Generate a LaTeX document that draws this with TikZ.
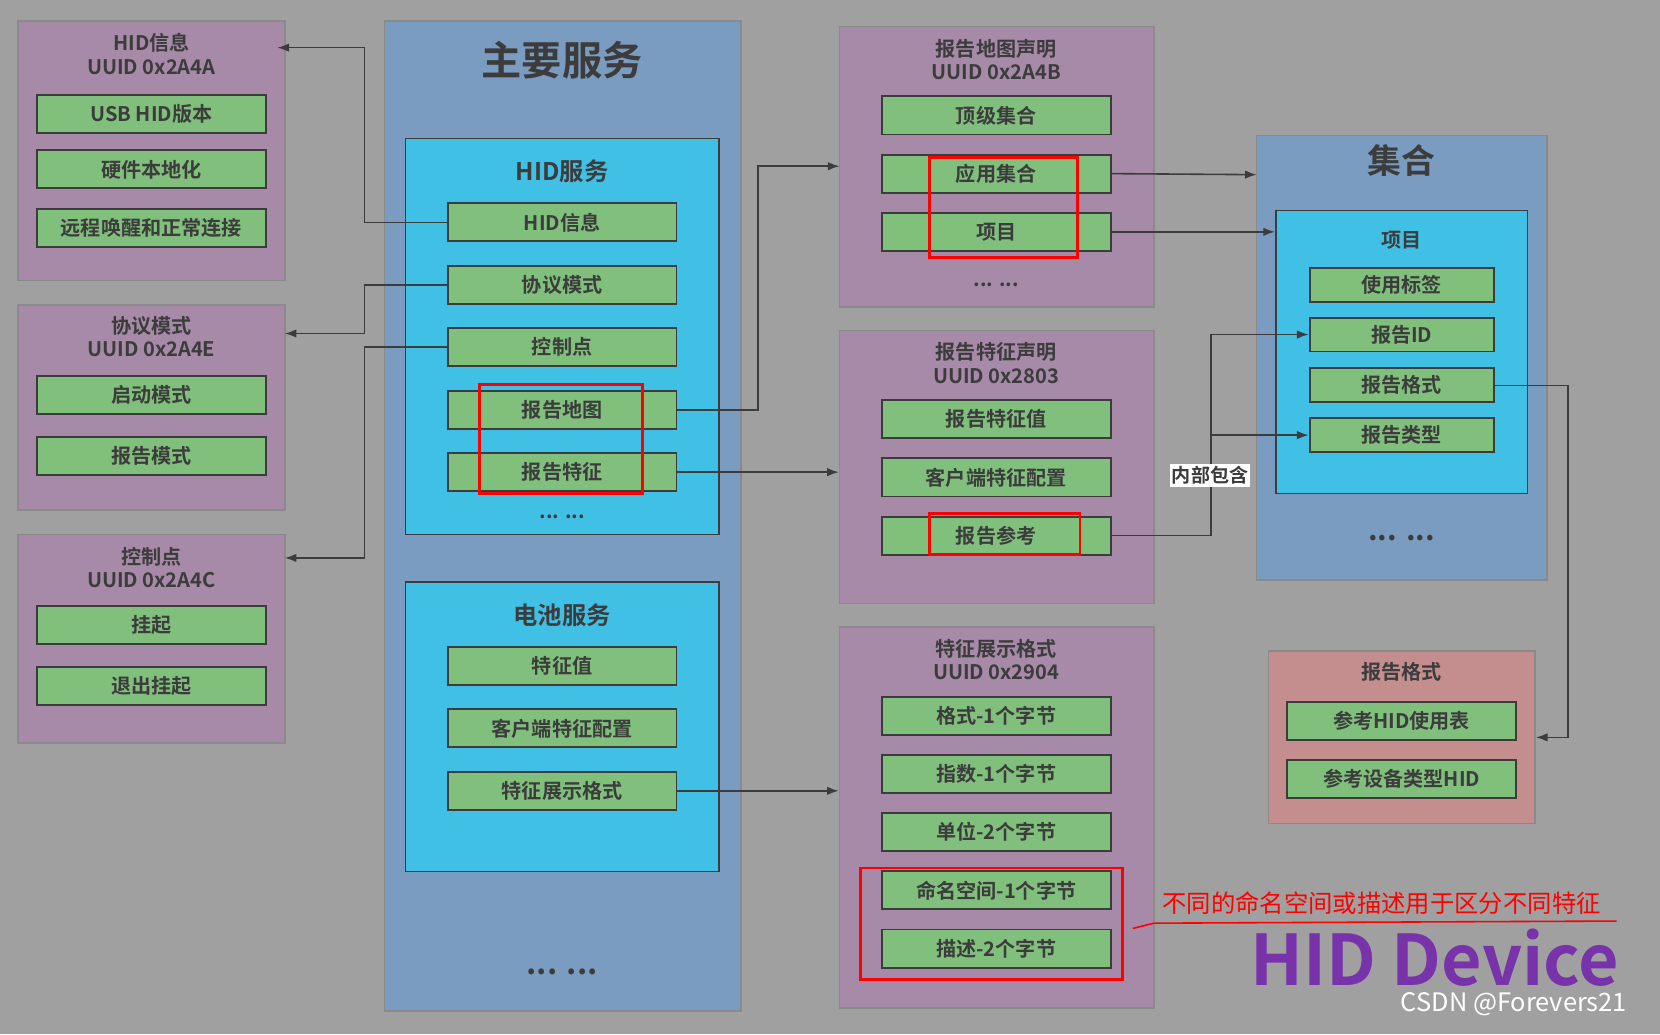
\documentclass[tikz,border=0pt]{standalone}
\usepackage{fontspec}
\setmainfont{Noto Sans CJK SC}[BoldFont={Noto Sans CJK SC Bold}]
\usetikzlibrary{arrows.meta}
\definecolor{bggray}{RGB}{160,160,160}
\definecolor{lilac}{RGB}{166,138,168}
\definecolor{steel}{RGB}{122,156,192}
\definecolor{sky}{RGB}{64,192,228}
\definecolor{leaf}{RGB}{128,192,124}
\definecolor{rose}{RGB}{196,142,142}
\definecolor{deepgrey}{RGB}{60,60,60}
\definecolor{grape}{RGB}{120,50,170}
\tikzset{
  frame/.style 2 args={draw=deepgrey!60,line width=1.5pt,minimum width=#1,minimum height=#2,inner sep=0pt},
  bar/.style={draw=deepgrey,line width=1.8pt,fill=leaf,minimum width=216,minimum height=36,inner sep=0pt,
    font=\fontsize{19}{22}\selectfont\bfseries,text=deepgrey},
  sbar/.style={bar,minimum width=174,minimum height=32},
  title/.style={font=\fontsize{19}{22}\selectfont\bfseries,text=deepgrey,align=center},
  svc/.style={title,font=\fontsize{23}{26}\selectfont\bfseries},
  arr/.style={draw=deepgrey,line width=1.5pt,-{Latex[length=11pt,width=8pt]}},
  hot/.style={draw=red,line width=2.5pt}
}
\begin{document}
\begin{tikzpicture}[x=1pt,y=-1pt]
\fill[bggray] (0,0) rectangle (1568,977);
\useasboundingbox (0,0) rectangle (1568,977);

% left column
\node[frame={252}{245},fill=lilac] (hidbox) at (143,142.5) {};
\node[title] at (143,51) {HID信息\\UUID 0x2A4A};
\node[bar] (usb) at (143,108) {USB HID版本};
\node[bar] (loc) at (143,160) {硬件本地化};
\node[bar] (wake) at (143,215) {远程唤醒和正常连接};
\node[frame={252}{194},fill=lilac] (protobox) at (143,385) {};
\node[title] at (143,318) {协议模式\\UUID 0x2A4E};
\node[bar] (boot) at (143,373) {启动模式};
\node[bar] (rmode) at (143,431) {报告模式};
\node[frame={252}{197},fill=lilac] (ctrlbox) at (143,603.5) {};
\node[title] at (143,536) {控制点\\UUID 0x2A4C};
\node[bar] (susp) at (143,590) {挂起};
\node[bar] (exit) at (143,648) {退出挂起};

% main services
\node[frame={337}{935},fill=steel] (main) at (531.5,487.5) {};
\node[font=\fontsize{38}{44}\selectfont\bfseries,text=deepgrey] at (531,57) {主要服务};
\node[frame={296}{374},fill=sky,draw=deepgrey] (hidsvc) at (531,318) {};
\node[svc] at (531,162) {HID服务};
\node[bar] (b1) at (531,210) {HID信息};
\node[bar] (b2) at (531,269) {协议模式};
\node[bar] (b3) at (531,328) {控制点};
\node[bar] (b4) at (531,387) {报告地图};
\node[bar] (b5) at (531,446) {报告特征};
\node[title] at (531,488) {... ...};
\draw[hot] (453,363) rectangle (607,466);
\node[frame={296}{273},fill=sky,draw=deepgrey] (batsvc) at (531,686.5) {};
\node[svc] at (531,581) {电池服务};
\node[bar] (c1) at (531,629) {特征值};
\node[bar] (c2) at (531,688) {客户端特征配置};
\node[bar] (c3) at (531,747) {特征展示格式};
\node[font=\fontsize{30}{30}\selectfont\bfseries,text=deepgrey] at (531,918) {... ...};

% right column
\node[frame={297}{265},fill=lilac] (mapbox) at (941.5,157.5) {};
\node[title] at (941,56) {报告地图声明\\UUID 0x2A4B};
\node[bar] (top) at (941,109) {顶级集合};
\node[bar] (app) at (941,164) {应用集合};
\node[bar] (item) at (941,219) {项目};
\node[title] at (941,269) {... ...};
\draw[hot] (878,149) rectangle (1018,243);
\node[frame={297}{258},fill=lilac] (charbox) at (941.5,441) {};
\node[title] at (941,343) {报告特征声明\\UUID 0x2803};
\node[bar] (val) at (941,396) {报告特征值};
\node[bar] (ccc) at (941,451) {客户端特征配置};
\node[bar] (ref) at (941,506) {报告参考};
\draw[hot] (878,485) rectangle (1020,524);
\node[frame={297}{360},fill=lilac] (fmtbox) at (941.5,772) {};
\node[title] at (941,623) {特征展示格式\\UUID 0x2904};
\node[bar] (f1) at (941,676) {格式-1个字节};
\node[bar] (f2) at (941,731) {指数-1个字节};
\node[bar] (f3) at (941,786) {单位-2个字节};
\node[bar] (f4) at (941,841) {命名空间-1个字节};
\node[bar] (f5) at (941,896) {描述-2个字节};
\draw[hot] (813,820) rectangle (1060,925);

% collection
\node[frame={274}{420},fill=steel] (coll) at (1324,338) {};
\node[font=\fontsize{32}{36}\selectfont\bfseries,text=deepgrey] at (1324,152) {集合};
\node[frame={238}{267},fill=sky,draw=deepgrey] (itembox) at (1324,332.5) {};
\node[title] at (1324,227) {项目};
\node[sbar] (tag) at (1324,269) {使用标签};
\node[sbar] (rid) at (1324,316) {报告ID};
\node[sbar] (rfmt) at (1324,364) {报告格式};
\node[sbar] (rtype) at (1324,411) {报告类型};
\node[font=\fontsize{28}{28}\selectfont\bfseries,text=deepgrey] at (1324,508) {... ...};
\node[frame={252}{163},fill=rose] (pinkbox) at (1324,696.5) {};
\node[title] at (1324,635) {报告格式};
\node[bar] (usage) at (1324,681) {参考HID使用表};
\node[bar] (dtype) at (1324,736) {参考设备类型HID};

% connectors
\coordinate (t1) at (262,45);
\coordinate (t2) at (269,315);
\coordinate (t3) at (269,527);
\coordinate (t4) at (793,157);
\coordinate (t5) at (1187,165);
\draw[arr] (b1.west) -- ++(-78,0) |- (t1);
\draw[arr] (b2.west) -- ++(-78,0) |- (t2);
\draw[arr] (b3.west) -- ++(-78,0) |- (t3);
\draw[arr] (b4.east) -- ++(76,0) |- (t4);
\draw[arr] (b5.east) -- (b5.east -| charbox.west);
\draw[arr] (c3.east) -- (c3.east -| fmtbox.west);
\draw[arr] (app.east) -- (t5);
\draw[arr] (item.east) -- (item.east -| itembox.west);
\draw[arr] (ref.east) -- ++(94,0) coordinate (jn) |- (rid.west);
\draw[arr] (jn) |- (rtype.west);
\draw[arr] (rfmt.east) -- ++(69,0) |- (pinkbox.east);
\node[fill=white,inner sep=2pt,font=\fontsize{18}{20}\selectfont\bfseries,text=deepgrey] (inner) at (1143,449) {内部包含};

% notes
\node[text=red,font=\fontsize{23}{25}\selectfont] (note) at (1305,853) {不同的命名空间或描述用于区分不同特征};
\draw[red,line width=1.5pt] (1070,877) -- (1090,872) -- (1527,870);
\node[text=grape,font=\fontsize{66}{66}\selectfont\bfseries] (dev) at (1355,905) {HID Device};
\node[text=white,font=\fontsize{24}{24}\selectfont] (mark) at (1430,949) {CSDN @Forevers21};
\end{tikzpicture}
\end{document}
